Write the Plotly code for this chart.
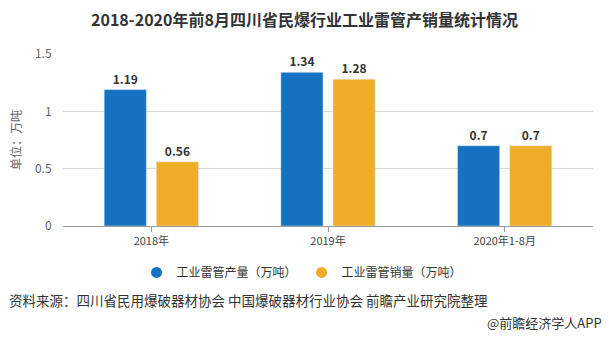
import plotly.graph_objects as go

categories = ["2018年", "2019年", "2020年1-8月"]
production = [1.19, 1.34, 0.7]
sales = [0.56, 1.28, 0.7]
series_names = ["工业雷管产量（万吨）", "工业雷管销量（万吨）"]
y_ticks = [0, 0.5, 1, 1.5]
y_ticklabels = ["0", "0.5", "1", "1.5"]

BLUE = "#1672c0"
ORANGE = "#f0ad2a"
FONT = "Noto Sans CJK SC"

fig = go.Figure()
for name, vals, col in [(series_names[0], production, BLUE), (series_names[1], sales, ORANGE)]:
    fig.add_trace(go.Bar(
        x=categories, y=vals, marker_color=col, showlegend=False,
        text=[f"{v:g}" for v in vals], textposition="outside",
        textfont=dict(size=12, color="#333333", family=FONT, weight="bold"),
        cliponaxis=False,
    ))
    fig.add_trace(go.Scatter(
        x=[None], y=[None], mode="markers", name=name,
        marker=dict(symbol="circle", size=11, color=col),
    ))

fig.update_layout(
    width=609, height=337,
    margin=dict(l=63, r=16, t=54, b=111),
    paper_bgcolor="white", plot_bgcolor="white",
    font=dict(family=FONT, color="#555555"),
    barmode="group", bargap=0.41, bargroupgap=0.19,
    title=dict(text="<b>2018-2020年前8月四川省民爆行业工业雷管产销量统计情况</b>",
               x=0.5, xanchor="center", y=0.94, yanchor="middle",
               font=dict(size=16, color="#333333", family=FONT)),
    legend=dict(orientation="h", x=0.451, xanchor="center", y=-0.27, yanchor="middle",
                font=dict(size=12, color="#333333", family=FONT),
                itemwidth=30, tracegroupgap=0),
    yaxis=dict(range=[0, 1.5], tickvals=y_ticks, ticktext=y_ticklabels,
               showgrid=True, gridcolor="#d9d9d9", gridwidth=1,
               zeroline=False, showline=False,
               tickfont=dict(size=12, color="#666666"),
               ticks="outside", ticklen=8, tickcolor="white",
               title=dict(text="单位：万吨", font=dict(size=12, color="#666666"), standoff=10)),
    xaxis=dict(showline=True, linecolor="#999999", linewidth=1,
               ticks="outside", ticklen=5, tickcolor="#999999",
               tickfont=dict(size=11, color="#444444")),
)

fig.add_annotation(text="资料来源：四川省民用爆破器材协会 中国爆破器材行业协会 前瞻产业研究院整理",
                   xref="paper", yref="paper", x=-56/530, y=-(300-226)/172,
                   xanchor="left", yanchor="middle", showarrow=False,
                   font=dict(size=13.5, color="#333333", family=FONT))
fig.add_annotation(text="@前瞻经济学人APP",
                   xref="paper", yref="paper", x=(604-63)/530, y=-(322-226)/172,
                   xanchor="right", yanchor="middle", showarrow=False,
                   font=dict(size=13, color="#333333", family=FONT))

fig.write_html("out.html")
